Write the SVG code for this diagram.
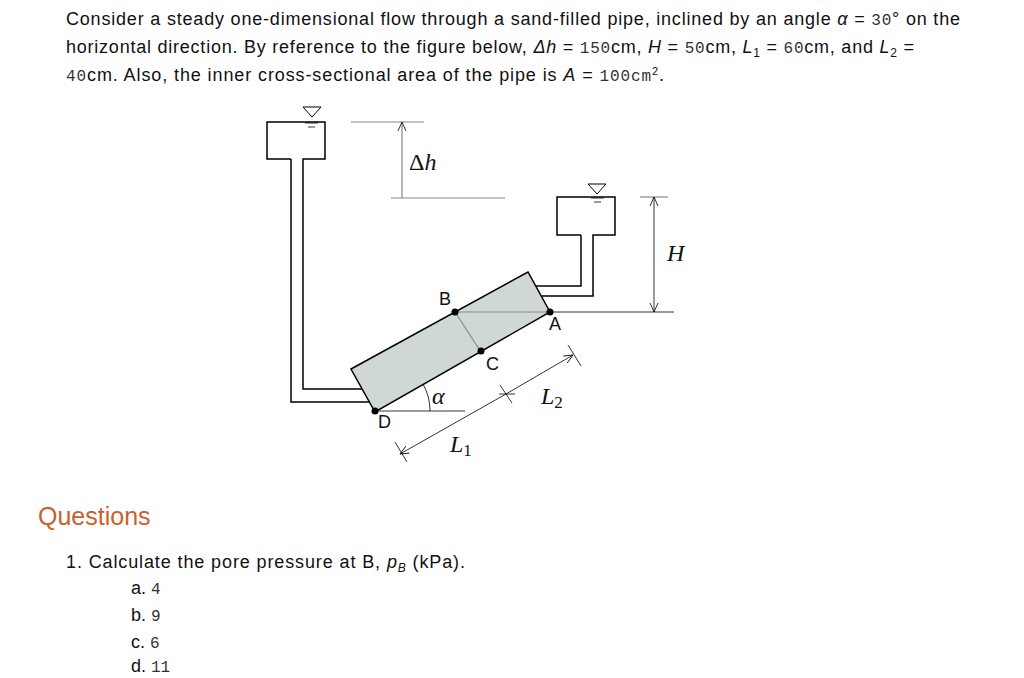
<svg xmlns="http://www.w3.org/2000/svg" width="1024" height="678" viewBox="0 0 1024 678">
<style>
.t{font-family:"Liberation Sans",Arial,sans-serif;font-size:18px;fill:#111}
.m{font-family:"Liberation Mono",monospace;font-size:16px;fill:#333}
.s{font-family:"Liberation Serif",serif;font-style:italic;font-size:24px;fill:#111}
.k{stroke:#000;stroke-width:1.5;fill:none}
.g{stroke:#888;stroke-width:1.2;fill:none}
.d{stroke:#000;stroke-width:0.8;fill:none}
</style>
<defs><marker id="ar" markerWidth="10" markerHeight="10" refX="9" refY="5" orient="auto" markerUnits="userSpaceOnUse"><path d="M0,1 L9,5 L0,9" fill="none" stroke="#000" stroke-width="0.8"/></marker></defs>
<g id="text">
<text class="t" x="66" y="25" textLength="894" lengthAdjust="spacing">Consider a steady one-dimensional flow through a sand-filled pipe, inclined by an angle <tspan font-style="italic">α</tspan> = <tspan class="m">30</tspan>° on the</text>
<text class="t" x="66" y="53" textLength="848" lengthAdjust="spacing">horizontal direction. By reference to the figure below, <tspan font-style="italic">Δh</tspan> = <tspan class="m">150</tspan>cm, <tspan font-style="italic">H</tspan> = <tspan class="m">50</tspan>cm, <tspan font-style="italic">L</tspan><tspan font-size="12" dy="4">1</tspan><tspan dy="-4"> = </tspan><tspan class="m">60</tspan>cm, and <tspan font-style="italic">L</tspan><tspan font-size="12" dy="4">2</tspan><tspan dy="-4"> =</tspan></text>
<text class="t" x="66" y="81" textLength="598" lengthAdjust="spacing"><tspan class="m">40</tspan>cm. Also, the inner cross-sectional area of the pipe is <tspan font-style="italic">A</tspan> = <tspan class="m">100cm</tspan><tspan font-size="11" dy="-6">2</tspan><tspan dy="6">.</tspan></text>
<text x="38" y="525" font-family="Liberation Sans,Arial,sans-serif" font-size="25" fill="#c8622a">Questions</text>
<text class="t" x="66" y="568" textLength="399" lengthAdjust="spacing">1. Calculate the pore pressure at B,  <tspan font-style="italic">p</tspan><tspan font-style="italic" font-size="12" dy="4">B</tspan><tspan dy="-4"> (kPa).</tspan></text>
<text class="t" x="131" y="594">a. <tspan class="m">4</tspan></text>
<text class="t" x="131" y="621">b. <tspan class="m">9</tspan></text>
<text class="t" x="131" y="648">c. <tspan class="m">6</tspan></text>
<text class="t" x="131" y="672">d. <tspan class="m">11</tspan></text>
</g>
<g id="sample">
<polygon points="351,369 528,272 550,312 375,412" fill="#cfd8d5" stroke="#000" stroke-width="1.5"/>
<line class="g" x1="455" y1="312" x2="550" y2="312"/>
<line class="g" x1="455" y1="312" x2="481" y2="352"/>
<g fill="#000"><circle cx="375" cy="411" r="3.5"/><circle cx="455" cy="312" r="3.5"/><circle cx="550" cy="312" r="3.5"/><circle cx="481" cy="351" r="3.5"/></g>
<g class="t" font-size="16"><text x="439" y="305">B</text><text x="549" y="330">A</text><text x="486" y="370">C</text><text x="378" y="428">D</text></g>
</g>
<g id="left-tank">
<path class="k" d="M291,159 H267 V122 H325 V159 H303 V389 H362"/>
<path class="k" d="M291,159 V402 H370"/>
<path d="M303,107 L312,117 L321,107 Z" fill="none" stroke="#000"/>
<path class="d" d="M305,123 H318 M308,127 H315"/>
</g>
<g id="right-tank">
<path class="k" d="M581,235 H557 V197 H615 V235 H593 V296 H542"/>
<path class="k" d="M581,235 V286 H536"/>
<path d="M588,184 L597,194 L606,184 Z" fill="none" stroke="#000"/>
<path class="d" d="M591,198 H604 M594,202 H601"/>
</g>
<g id="dimensions">
<line class="g" x1="351" y1="122" x2="424" y2="122"/>
<line class="g" x1="391" y1="198" x2="505" y2="198"/>
<line class="g" x1="402" y1="198" x2="402" y2="122" marker-end="url(#ar)"/>
<text x="409" y="170" font-family="Liberation Serif,serif" font-size="24" fill="#111">Δ<tspan font-style="italic">h</tspan></text>
<line class="g" x1="640" y1="197" x2="668" y2="197"/>
<line class="d" x1="550" y1="312" x2="674" y2="312"/>
<line class="d" x1="654" y1="255" x2="654" y2="197" marker-end="url(#ar)"/>
<line class="d" x1="654" y1="255" x2="654" y2="312" marker-end="url(#ar)"/>
<text class="s" x="667" y="261">H</text>
<line class="d" x1="375" y1="411" x2="465" y2="411"/>
<path class="d" d="M430,411 A55,55 0 0 0 423,384"/>
<text class="s" x="432" y="404">α</text>
<line class="d" x1="506" y1="394" x2="400" y2="454" marker-end="url(#ar)"/>
<line class="d" x1="506" y1="394" x2="573" y2="355" marker-end="url(#ar)"/>
<path class="d" d="M395,442 L407,462 M568,345 L581,366 M500,385 L512,403 M499,394 L515,394"/>
<text class="s" x="450" y="452">L<tspan font-size="17" font-style="normal" dy="4">1</tspan></text>
<text class="s" x="541" y="404">L<tspan font-size="17" font-style="normal" dy="4">2</tspan></text>
</g>
</svg>
